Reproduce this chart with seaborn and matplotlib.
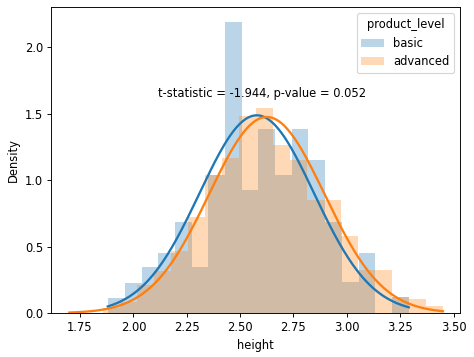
import numpy as np
import pandas as pd
import matplotlib
matplotlib.use("Agg")
import matplotlib.pyplot as plt
import seaborn as sns

# bins
basic_start, basic_width = 1.883, 0.0781
basic_density = [0.115, 0.228, 0.344, 0.456, 0.687, 0.348, 1.04, 2.19, 0.925,
                 1.389, 1.04, 1.383, 1.15, 0.687, 0.235, 0.456, 0.0, 0.118]

adv_start, adv_width = 1.70, 0.0795
adv_density = [0.0, 0.0, 0.035, 0.085, 0.21, 0.32, 0.47, 0.724, 1.04, 1.17, 1.48,
               1.544, 1.263, 1.15, 0.85, 0.85, 0.579, 0.323, 0.323, 0.118, 0.103, 0.053]

# fitted normal curves: mean, sd, data range
basic_fit = [2.578, 0.268, 1.88, 3.29]
adv_fit = [2.625, 0.2703, 1.70, 3.45]

t_stat = -1.944
p_val = 0.052

def edges(start, width, n):
    return start + width * np.arange(n + 1)

def normal_curve(mu, sd, lo, hi):
    x = np.linspace(lo, hi, 200)
    return x, np.exp(-0.5 * ((x - mu) / sd) ** 2) / (sd * np.sqrt(2 * np.pi))

dpi = 83
fig = plt.figure(figsize=(474 / dpi, 357 / dpi), dpi=dpi)
ax = fig.add_subplot(111)
fig.subplots_adjust(left=0.108, right=0.9705, bottom=0.123, top=0.979)

groups = [("basic", basic_start, basic_width, basic_density, basic_fit, "C0"),
          ("advanced", adv_start, adv_width, adv_density, adv_fit, "C1")]

for name, start, width, dens, fit, col in groups:
    e = edges(start, width, len(dens))
    centers = (e[:-1] + e[1:]) / 2
    df = pd.DataFrame({"height": centers, "w": dens})
    sns.histplot(data=df, x="height", weights="w", bins=list(e), stat="count",
                 color=col, alpha=0.3, linewidth=0, label=name, ax=ax)

for name, start, width, dens, fit, col in groups:
    x, y = normal_curve(*fit)
    sns.lineplot(x=x, y=y, color=col, linewidth=2, ax=ax)

ax.text(2.603, 1.65, f"t-statistic = {t_stat:.3f}, p-value = {p_val:.3f}",
        ha="center", va="center")

ax.set_xlim(1.615, 3.53)
ax.set_ylim(0, 2.3)
ax.set_xlabel("height")
ax.set_ylabel("Density")
ax.legend(title="product_level", loc="upper right")

fig.savefig("out.png", dpi=dpi)
